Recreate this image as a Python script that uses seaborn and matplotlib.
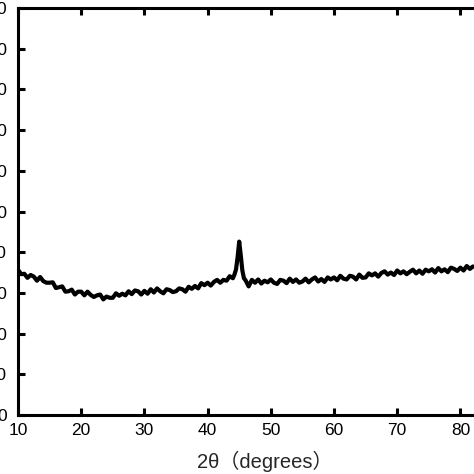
import numpy as np
import pandas as pd
import matplotlib
matplotlib.use("Agg")
import matplotlib.pyplot as plt
import seaborn as sns

# 2theta (degrees) and intensity (a.u.)
two_theta = [
    10.0, 10.5, 11.0, 11.5, 12.0, 12.5, 13.0, 13.5, 14.0, 14.5,
    15.0, 15.5, 16.0, 16.5, 17.0, 17.5, 18.0, 18.5, 19.0, 19.5,
    20.0, 20.5, 21.0, 21.5, 22.0, 22.5, 23.0, 23.5, 24.0, 24.5,
    25.0, 25.5, 26.0, 26.5, 27.0, 27.5, 28.0, 28.5, 29.0, 29.5,
    30.0, 30.5, 31.0, 31.5, 32.0, 32.5, 33.0, 33.5, 34.0, 34.5,
    35.0, 35.5, 36.0, 36.5, 37.0, 37.5, 38.0, 38.5, 39.0, 39.5,
    40.0, 40.5, 41.0, 41.5, 42.0, 42.5, 43.0, 43.5, 44.0, 44.25,
    44.5, 44.75, 45.0, 45.25, 45.5, 45.75, 46.0,
    46.5, 47.0, 47.5, 48.0, 48.5, 49.0, 49.5,
    50.0, 50.5, 51.0, 51.5, 52.0, 52.5, 53.0, 53.5, 54.0, 54.5,
    55.0, 55.5, 56.0, 56.5, 57.0, 57.5, 58.0, 58.5, 59.0, 59.5,
    60.0, 60.5, 61.0, 61.5, 62.0, 62.5, 63.0, 63.5, 64.0, 64.5,
    65.0, 65.5, 66.0, 66.5, 67.0, 67.5, 68.0, 68.5, 69.0, 69.5,
    70.0, 70.5, 71.0, 71.5, 72.0, 72.5, 73.0, 73.5, 74.0, 74.5,
    75.0, 75.5, 76.0, 76.5, 77.0, 77.5, 78.0, 78.5, 79.0, 79.5,
    80.0, 80.5, 81.0, 81.5, 82.0,
]
intensity = [
    357, 346, 347, 337, 344, 340, 330, 339, 329, 325,
    325, 326, 312, 314, 316, 303, 304, 308, 296, 303,
    303, 294, 303, 295, 290, 294, 296, 284, 291, 288,
    288, 299, 293, 298, 294, 304, 297, 306, 304, 296,
    305, 298, 309, 301, 311, 304, 299, 309, 307, 302,
    304, 311, 309, 303, 315, 310, 317, 311, 324, 319,
    325, 318, 327, 332, 325, 332, 330, 341, 336, 345,
    358, 388, 426, 392, 355, 336, 331,
    316, 332, 325, 333, 323, 330, 326,
    333, 325, 322, 332, 330, 324, 335, 327, 333, 325,
    328, 335, 326, 333, 338, 328, 334, 327, 338, 333,
    338, 331, 342, 335, 333, 342, 340, 333, 345, 337,
    338, 348, 343, 348, 340, 349, 353, 345, 350, 344,
    355, 348, 353, 346, 352, 357, 348, 355, 347, 357,
    353, 358, 350, 361, 353, 358, 351, 362, 359, 354,
    362, 355, 366, 359, 365,
]
y_ticks = [0, 100, 200, 300, 400, 500, 600, 700, 800, 900, 1000]
x_ticks = [10, 20, 30, 40, 50, 60, 70, 80, 90]
x_label = "2θ（degrees）"

df = pd.DataFrame({"two_theta": two_theta, "intensity": intensity})

sns.set_style("ticks")
plt.rcParams["font.family"] = ["Liberation Sans", "Noto Sans CJK SC", "DejaVu Sans"]

fig = plt.figure(figsize=(4.74, 4.74), dpi=100)
W = 474.0
ax = fig.add_axes([18 / W, (W - 415) / W, 505.6 / W, 407 / W])

sns.lineplot(data=df, x="two_theta", y="intensity", ax=ax,
             color="black", linewidth=3.0, estimator=None, sort=False)

ax.set_xlim(10, 90)
ax.set_ylim(0, 1000)
ax.set_xticks(x_ticks)
ax.set_yticks(y_ticks)
ax.set_xticklabels([str(v) for v in x_ticks])
ax.set_yticklabels([str(v) for v in y_ticks])
ax.set_ylabel("")
ax.set_xlabel(x_label, fontsize=14.5, family=["Liberation Sans", "Noto Sans CJK SC"])
ax.xaxis.set_label_coords((265 - 18) / 505.6, -0.088)

for s in ax.spines.values():
    s.set_linewidth(2.2)
    s.set_color("black")

ax.tick_params(axis="both", which="major", direction="in", length=5, width=2.2,
               labelsize=12.5, colors="black", top=True, right=True)
ax.tick_params(axis="x", pad=6)
ax.tick_params(axis="y", pad=8)

fig.savefig("out.png", dpi=100)
